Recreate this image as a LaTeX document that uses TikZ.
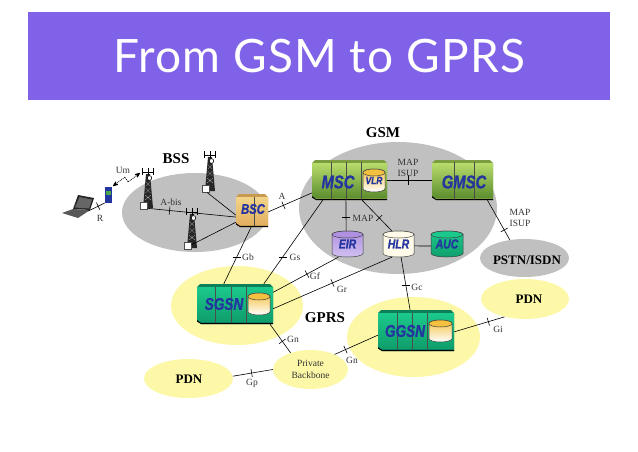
\documentclass[tikz,border=0pt]{standalone}
\usepackage{fontspec}
\setmainfont{Liberation Serif}
\newfontfamily\titlefont[LetterSpace=2.5]{Lato}
\newfontfamily\unitfont[FakeStretch=0.8,BoldItalicFeatures={FakeBold=1.2}]{Liberation Sans}
\usetikzlibrary{arrows,positioning,shapes.geometric,decorations.markings}

\definecolor{banner}{HTML}{8062E8}
\definecolor{greycloud}{HTML}{C0C0C0}
\definecolor{yellowcloud}{HTML}{FCF8A8}
\definecolor{unitblue}{HTML}{24359F}
\definecolor{oliveup}{HTML}{B8DC6C}
\definecolor{olivedown}{HTML}{5F8F30}
\definecolor{oliveedge}{HTML}{7C9C40}
\definecolor{tealup}{HTML}{1CC98C}
\definecolor{tealdown}{HTML}{0F9F6C}
\definecolor{tealedge}{HTML}{0C8058}
\definecolor{tanup}{HTML}{F2D488}
\definecolor{tandown}{HTML}{E2B060}
\definecolor{tanedge}{HTML}{C89A50}
\definecolor{drumtop}{HTML}{F4C040}
\definecolor{drumfill}{HTML}{FFFBE8}
\definecolor{purpleup}{HTML}{B090E0}
\definecolor{purpledown}{HTML}{D0C0F0}

\tikzset{
  cloud/.style={ellipse,inner sep=0pt,fill=#1},
  sized/.style 2 args={minimum width=#1pt,minimum height=#2pt,inner sep=0pt},
  link/.style={draw=black,line width=.6pt},
  ticked/.style={postaction={decorate,decoration={markings,mark=at position #1 with {\draw[line width=.6pt] (0pt,-4pt) -- (0pt,4pt);}}}},
  hticked/.style={postaction={decorate,decoration={markings,mark=at position #1 with {\pgftransformresetnontranslations\draw[line width=.6pt] (-4pt,0pt) -- (4pt,0pt);}}}},
  vticked/.style={postaction={decorate,decoration={markings,mark=at position #1 with {\pgftransformresetnontranslations\draw[line width=.6pt] (0pt,-5pt) -- (0pt,5pt);}}}},
  small/.style={inner sep=0pt,font=\fontsize{9.5}{10.5}\selectfont,align=center,text=black!80},
  heading/.style={inner sep=0pt,font=\fontsize{15}{17}\selectfont\bfseries},
  subheading/.style={inner sep=0pt,font=\fontsize{13}{15}\selectfont\bfseries},
  unitname/.style={inner sep=0pt,text=unitblue,font=\unitfont\bfseries\itshape\fontsize{#1}{#1}\selectfont},
}

% front of a unit: name, left, top, right, bottom, top colour, bottom colour, edge colour
\newcommand{\unitbox}[8]{
  \fill[#8] (#2,#3+3) -- (#2+3,#3) -- (#4-3,#3) -- (#4,#3+3) -- (#4,#5) -- (#2+4,#5) -- (#2,#5-3) -- cycle;
  \shade[top color=#6,bottom color=#7] (#2,#3+3) rectangle (#4,#5-3);
  \fill[black] (#2,#5-4) -- (#2+4,#5-1) -- (#4,#5-1) -- (#4,#5) -- (#2+4,#5) -- (#2,#5-2.5) -- cycle;
  \node[sized={#4-#2}{#5-#3}] (#1) at ({(#2+#4)/2},{(#3+#5)/2}) {};
}
% drum: name, centre x, centre y, width, height, top colour, bottom colour, text
\newcommand{\drum}[8]{
  \begin{scope}[shift={(#2,#3)}]
    \path[draw=black!75,line width=.5pt,top color=#6,bottom color=#7] (-#4/2,-#5/2+3.5) -- (-#4/2,#5/2-3.5)
      arc[start angle=180,end angle=360,x radius=#4/2 pt,y radius=3.5pt] -- (#4/2,-#5/2+3.5)
      arc[start angle=0,end angle=180,x radius=#4/2 pt,y radius=3.5pt] -- cycle;
    \draw[black!75,line width=.5pt,fill=#6] (0,-#5/2+3.5) ellipse[x radius=#4/2 pt,y radius=3.5pt];
    \node[sized={#4}{#5}] (#1) at (0,0) {#8};
  \end{scope}
}
% mast: name of its hut, x of the mast, top of the mast
\newcommand{\mast}[3]{
  \begin{scope}[shift={(#2,#3)}]
    \fill[black!85] (-2,6) -- (2,6) -- (5,40) -- (-5,40) -- cycle;
    \draw[white!70!black,line width=.3pt] (-2,14) -- (2,18) (2,14) -- (-2,18) (-2.5,20) -- (2.5,25) (2.5,20) -- (-2.5,25) (-3,27) -- (3,32) (3,27) -- (-3,32);
    \draw[black,line width=1pt] (-5.5,4) -- (5.5,4) (-5.5,0) -- (-5.5,7) (0,0) -- (0,7) (5.5,0) -- (5.5,7);
    \draw[black,fill=white,line width=.5pt] (1.5,10) circle (2.3pt);
    \node[draw=black!70,fill=white,line width=.5pt,sized={7.5}{7.5}] (#1) at (-4.5,37.5) {};
  \end{scope}
}

\begin{document}
\begin{tikzpicture}[x=1pt,y=-1pt,>=stealth']
  \useasboundingbox (0,0) rectangle (638,451);
  \node[fill=banner,sized={582}{88},text=white,font=\titlefont\fontsize{46}{50}\selectfont] (title) at (319,56) {From GSM to GPRS};

  % clouds
  \node[cloud=greycloud,sized={146}{79}] (bss) at (195,212.5) {};
  \node[cloud=greycloud,sized={198}{132}] (gsm) at (398,208) {};
  \node[cloud=greycloud,sized={89}{38}] (pstn) at (524.5,258) {};
  \node[cloud=yellowcloud,sized={88}{40}] (pdnright) at (525,299) {};
  \node[cloud=yellowcloud,sized={133}{80}] (ggsncloud) at (413.5,337) {};
  \node[cloud=yellowcloud,sized={132}{79}] (sgsncloud) at (237,305.5) {};
  \node[cloud=yellowcloud,sized={89}{39}] (pdnleft) at (188.5,378.5) {};
  \node[cloud=yellowcloud,sized={75}{39},small,font=\fontsize{9.5}{11.5}\selectfont] (backbone) at (310.5,369.5) {Private\\Backbone};

  % units
  \unitbox{msc}{312}{160}{387}{200}{oliveup}{olivedown}{oliveedge}
  \draw[black!70,line width=.5pt] (331,162) -- (331,199) (346,162) -- (346,199) (361,162) -- (361,199);
  \node[unitname=18.5] (mscname) at (338,182) {MSC};
  \drum{vlr}{374}{180.5}{22}{23}{drumtop}{white}{\unitfont\bfseries\itshape\fontsize{10.5}{10.5}\selectfont\textcolor{unitblue}{VLR}}

  \unitbox{gmsc}{432}{160}{493}{200}{oliveup}{olivedown}{oliveedge}
  \draw[black!70,line width=.5pt] (454,162) -- (454,199) (474,162) -- (474,199);
  \node[unitname=18.5] (gmscname) at (464,182) {GMSC};

  \unitbox{sgsn}{197}{284}{273}{324}{tealup}{tealdown}{tealedge}
  \draw[black!70,line width=.5pt] (215,287) -- (215,323) (231,287) -- (231,323) (246,287) -- (246,323);
  \node[unitname=17] (sgsnname) at (224,304) {SGSN};
  \drum{sgsndb}{259}{304}{22}{22}{drumtop}{white}{}

  \unitbox{ggsn}{378}{310}{454}{351}{tealup}{tealdown}{tealedge}
  \draw[black!70,line width=.5pt] (397,313) -- (397,350) (412,313) -- (412,350) (427,313) -- (427,350);
  \node[unitname=17] (ggsnname) at (405,331) {GGSN};
  \drum{ggsndb}{440.5}{331}{23}{22}{drumtop}{white}{}

  \unitbox{bsc}{236}{194}{268}{227}{tanup}{tandown}{tanedge}
  \draw[black!70,line width=.5pt] (254,197) -- (254,226);
  \node[unitname=14] (bscname) at (253,209) {BSC};

  \drum{eir}{347.5}{244}{31}{26}{purpleup}{purpledown}{\unitfont\bfseries\itshape\fontsize{13}{13}\selectfont\textcolor{unitblue}{EIR}}
  \drum{hlr}{398.5}{244}{31}{26}{drumfill}{drumfill}{\unitfont\bfseries\itshape\fontsize{13}{13}\selectfont\textcolor{unitblue}{HLR}}
  \drum{auc}{447}{244}{32}{26}{tealup}{tealdown}{\unitfont\bfseries\itshape\fontsize{13}{13}\selectfont\textcolor{unitblue}{AUC}}

  % radio side
  \mast{hutleft}{148}{168}
  \mast{huttop}{210}{151}
  \mast{hutlow}{192}{208}
  \node[sized={26}{22}] (laptop) at (75,207) {};
  \fill[black!85] (78,195) -- (94,198) -- (90,210) -- (73,209) -- cycle;
  \fill[black!60] (79.5,197) -- (92,199.5) -- (89,208.5) -- (75,207.5) -- cycle;
  \fill[black!65] (62,213) -- (73,209) -- (90,210) -- (78,218) -- cycle;
  \node[fill=unitblue,sized={7}{15.5}] (phone) at (108.5,195) {};
  \fill[green!50!black!70] (106,191) rectangle (111,195);
  \coordinate (umstart) at (113,186);
  \coordinate (umend) at (140,173);
  \draw[<->,densely dotted,line width=.8pt] (umstart) -- (125,177) -- (128,182) -- (umend);

  % connectors
  \path[link,ticked=.6] (laptop.343) -- (phone.south west);
  \path[link,ticked=.25] (hutleft.325) -- (bsc.202);
  \path[link] (huttop.293) -- (bsc.196);
  \path[link] (hutlow.10) -- (bsc.216);
  \path[link,ticked=.35] (bsc.355) -- (msc.199);
  \path[link,hticked=.53] (bsc.267) -- (sgsn.119);
  \path[link,hticked=.32] (sgsn.35) -- (msc.217);
  \path[link,ticked=.52] (sgsn.17.5) -- (eir.235);
  \path[link,ticked=.5] (sgsn.-7.5) -- (hlr.243);
  \path[link,hticked=.54] (hlr.281) -- (ggsn.106);
  \path[link,ticked=.6] (sgsn.-30) -- (backbone.140);
  \path[link,ticked=.75] (ggsn.187) -- (backbone.32);
  \path[link,ticked=.47] (pdnleft.3) -- (backbone.180);
  \path[link,ticked=.68] (ggsn.358) -- (pdnright.221);
  \path[link,vticked=.47] (msc.east) -- (gmsc.west);
  \path[link,hticked=.55] (msc.260) -- (eir.96);
  \path[link,ticked=.58] (msc.302) -- (hlr.117);
  \path[link] (hlr.-7) -- (auc.187);
  \path[link,ticked=.75] (gmsc.321) -- (pstn.129);

  % labels
  \node[heading] (gsmlabel) at (383,133) {GSM};
  \node[heading] (bsslabel) at (176,159) {BSS};
  \node[heading] (gprslabel) at (325,318) {GPRS};
  \node[subheading] (pstnlabel) at (527,260) {PSTN/ISDN};
  \node[subheading] (pdnrightlabel) at (529,299) {PDN};
  \node[subheading] (pdnleftlabel) at (189,379) {PDN};
  \node[small] (umlabel) at (123,170) {Um};
  \node[small] (rlabel) at (100,218) {R};
  \node[small] (abislabel) at (171,202) {A-bis};
  \node[small] (alabel) at (282,196) {A};
  \node[small] (gblabel) at (248,257) {Gb};
  \node[small] (gslabel) at (295,257) {Gs};
  \node[small] (gflabel) at (315,276) {Gf};
  \node[small] (grlabel) at (342,289) {Gr};
  \node[small] (gclabel) at (417,287) {Gc};
  \node[small] (gnleftlabel) at (293,339) {Gn};
  \node[small] (gnrightlabel) at (352,360) {Gn};
  \node[small] (gplabel) at (252,383) {Gp};
  \node[small] (gilabel) at (498,329) {Gi};
  \node[small] (mapmsclabel) at (408,168) {MAP\\ISUP};
  \node[small] (maplabel) at (363,218) {MAP};
  \node[small] (mappstnlabel) at (520,218) {MAP\\ISUP};
\end{tikzpicture}
\end{document}
